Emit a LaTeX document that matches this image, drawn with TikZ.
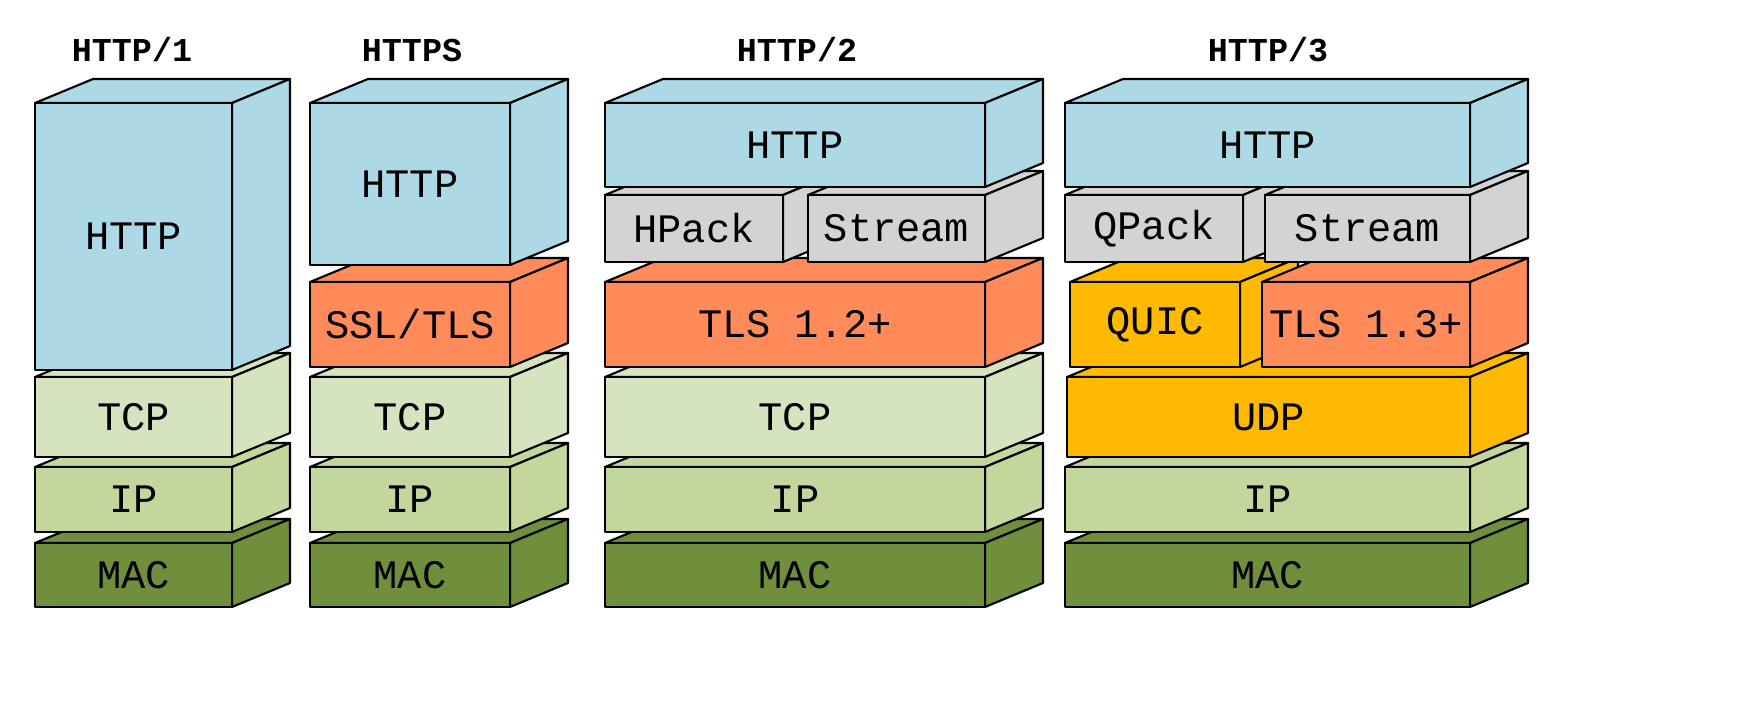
\documentclass[tikz,border=0pt]{standalone}
\usepackage{fontspec}
\setmainfont{Liberation Mono}
\begin{document}
\definecolor{cblue}{HTML}{ADD8E6}
\definecolor{cgray}{HTML}{D3D3D3}
\definecolor{corange}{HTML}{FF8B5A}
\definecolor{ctcp}{HTML}{D5E3BE}
\definecolor{cip}{HTML}{C3D69B}
\definecolor{cmac}{HTML}{6F8F3C}
\definecolor{cgold}{HTML}{FFB900}
\tikzset{face/.style={draw=black,line width=1.2pt,line join=round},
  lbl/.style={font=\fontsize{23}{26}\selectfont,inner sep=0pt},
  ttl/.style={font=\bfseries\fontsize{19}{22}\selectfont,inner sep=0pt}}
\newcommand\mylayer[7]{% x1,y1,x2,y2,color,name,label
  \fill[#5,face] (#1,#2)--(#1+58,#2-24)--(#3+58,#2-24)--(#3,#2)--cycle;
  \fill[#5,face] (#3,#2)--(#3+58,#2-24)--(#3+58,#4-24)--(#3,#4)--cycle;
  \fill[#5,face] (#1,#2) rectangle (#3,#4);
  \node[lbl] (#6) at ({(#1+#3)/2},{(#2+#4)/2}) {#7};}
\begin{tikzpicture}[x=0.02cm,y=-0.02cm]
\useasboundingbox (0,0) rectangle (1739,710);
% column 1
\node[ttl] (t1) at (132,50) {HTTP/1};
\mylayer{35}{543}{232}{607}{cmac}{a4}{MAC}
\mylayer{35}{467}{232}{532}{cip}{a3}{IP}
\mylayer{35}{377}{232}{457}{ctcp}{a2}{TCP}
\mylayer{35}{103}{232}{370}{cblue}{a1}{HTTP}
% column 2
\node[ttl] (t2) at (412,50) {HTTPS};
\mylayer{310}{543}{510}{607}{cmac}{b5}{MAC}
\mylayer{310}{467}{510}{532}{cip}{b4}{IP}
\mylayer{310}{377}{510}{457}{ctcp}{b3}{TCP}
\mylayer{310}{282}{510}{367}{corange}{b2}{SSL/TLS}
\mylayer{310}{103}{510}{265}{cblue}{b1}{HTTP}
% column 3
\node[ttl] (t3) at (797,50) {HTTP/2};
\mylayer{605}{543}{985}{607}{cmac}{c6}{MAC}
\mylayer{605}{467}{985}{532}{cip}{c5}{IP}
\mylayer{605}{377}{985}{457}{ctcp}{c4}{TCP}
\mylayer{605}{282}{985}{367}{corange}{c3}{TLS 1.2+}
\mylayer{605}{195}{783}{262}{cgray}{c2a}{HPack}
\mylayer{808}{195}{985}{262}{cgray}{c2b}{Stream}
\mylayer{605}{103}{985}{187}{cblue}{c1}{HTTP}
% column 4
\node[ttl] (t4) at (1268,50) {HTTP/3};
\mylayer{1065}{543}{1470}{607}{cmac}{d6}{MAC}
\mylayer{1065}{467}{1470}{532}{cip}{d5}{IP}
\mylayer{1067}{377}{1470}{457}{cgold}{d4}{UDP}
\mylayer{1070}{282}{1240}{367}{cgold}{d3a}{QUIC}
\mylayer{1262}{282}{1470}{367}{corange}{d3b}{TLS 1.3+}
\mylayer{1065}{195}{1243}{262}{cgray}{d2a}{QPack}
\mylayer{1265}{195}{1470}{262}{cgray}{d2b}{Stream}
\mylayer{1065}{103}{1470}{187}{cblue}{d1}{HTTP}
\end{tikzpicture}
\end{document}
